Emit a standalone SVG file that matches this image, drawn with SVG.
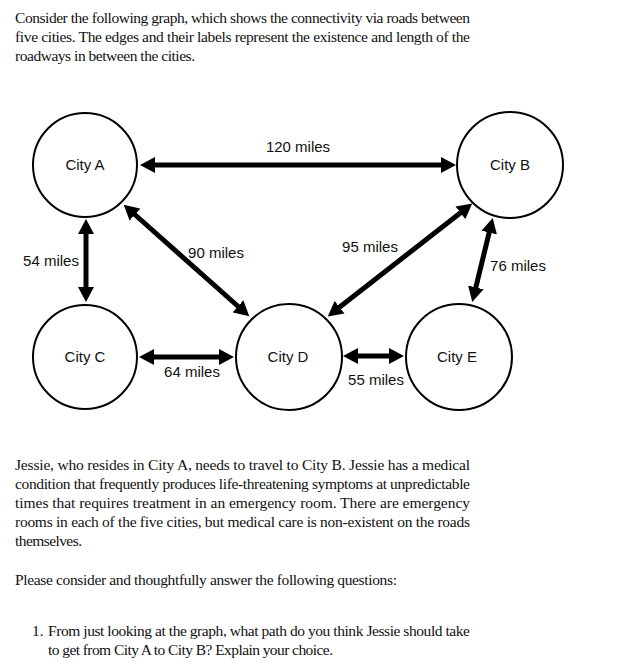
<svg xmlns="http://www.w3.org/2000/svg" width="631" height="666" viewBox="0 0 631 666">
<style>
.p{font-family:"Liberation Serif","Times New Roman",serif;font-size:15.5px;fill:#111}
.n{font-family:"Liberation Sans",Arial,sans-serif;font-size:15px;fill:#111}
.c{text-anchor:middle}
circle{fill:#fff;stroke:#000;stroke-width:2}
.e{stroke:#000;stroke-width:5;fill:none;marker-start:url(#ah);marker-end:url(#ah)}
</style>
<defs>
<marker id="ah" markerUnits="userSpaceOnUse" markerWidth="16" markerHeight="18" viewBox="0 -9 16 18" refX="1" refY="0" orient="auto-start-reverse">
<path d="M0,-8 L15,0 L0,8 z" fill="#000"/>
</marker>
</defs>
<rect width="631" height="666" fill="#fff"/>
<g id="text-intro">
<text class="p" x="15" y="23" textLength="455">Consider the following graph, which shows the connectivity via roads between</text>
<text class="p" x="15" y="42" textLength="455">five cities. The edges and their labels represent the existence and length of the</text>
<text class="p" x="15" y="61" textLength="180">roadways in between the cities.</text>
</g>
<g id="connectors">
<line class="e" x1="154" y1="165" x2="442" y2="165"/>
<line class="e" x1="86" y1="233" x2="86" y2="288"/>
<line class="e" x1="134.2" y1="214" x2="238.8" y2="307"/>
<line class="e" x1="461.2" y1="212.2" x2="338.8" y2="307.8"/>
<line class="e" x1="489.4" y1="231.6" x2="475.6" y2="288.4"/>
<line class="e" x1="153" y1="357" x2="220" y2="357"/>
<line class="e" x1="357" y1="356" x2="390" y2="356"/>
</g>
<g id="edge-labels">
<text class="n c" x="298" y="152">120 miles</text>
<text class="n c" x="51" y="266">54 miles</text>
<text class="n c" x="216" y="258">90 miles</text>
<text class="n c" x="370" y="252">95 miles</text>
<text class="n c" x="518" y="271">76 miles</text>
<text class="n c" x="192" y="377">64 miles</text>
<text class="n c" x="376" y="385">55 miles</text>
</g>
<g id="cityA"><circle cx="85" cy="165" r="52"/><text class="n c" x="85" y="170">City A</text></g>
<g id="cityB"><circle cx="510" cy="165" r="53"/><text class="n c" x="510" y="170">City B</text></g>
<g id="cityC"><circle cx="85" cy="357" r="52"/><text class="n c" x="85" y="362">City C</text></g>
<g id="cityD"><circle cx="289" cy="357" r="53"/><text class="n c" x="288" y="362">City D</text></g>
<g id="cityE"><circle cx="459" cy="357" r="53"/><text class="n c" x="457" y="362">City E</text></g>
<g id="text-story">
<text class="p" x="15" y="470" textLength="455">Jessie, who resides in City A, needs to travel to City B. Jessie has a medical</text>
<text class="p" x="15" y="489" textLength="455">condition that frequently produces life-threatening symptoms at unpredictable</text>
<text class="p" x="15" y="508" textLength="455">times that requires treatment in an emergency room. There are emergency</text>
<text class="p" x="15" y="527" textLength="455">rooms in each of the five cities, but medical care is non-existent on the roads</text>
<text class="p" x="15" y="546" textLength="67">themselves.</text>
<text class="p" x="15" y="585" textLength="382">Please consider and thoughtfully answer the following questions:</text>
<text class="p" x="32" y="636">1.</text>
<text class="p" x="48" y="636" textLength="422">From just looking at the graph, what path do you think Jessie should take</text>
<text class="p" x="48" y="655" textLength="285">to get from City A to City B? Explain your choice.</text>
</g>
</svg>
